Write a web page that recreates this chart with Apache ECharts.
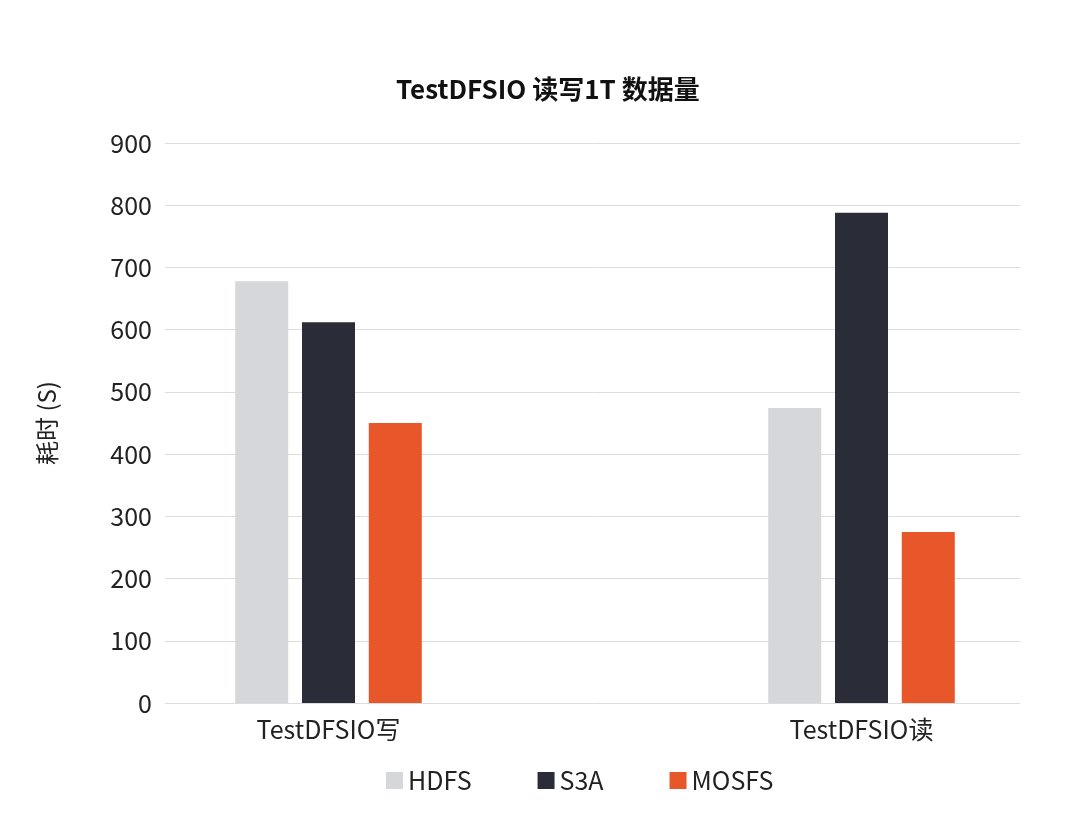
<!DOCTYPE html>
<html><head><meta charset="utf-8">
<script src="https://cdn.jsdelivr.net/npm/echarts@6/dist/echarts.min.js"></script>
<style>html,body{margin:0;padding:0;background:#fff}#c{width:1080px;height:836px}</style>
</head><body><div id="c"></div>
<script>
const categories = ['TestDFSIO写', 'TestDFSIO读'];
const seriesNames = ['HDFS', 'S3A', 'MOSFS'];
const hdfs = [678, 474];
const s3a = [612, 788];
const mosfs = [450, 275];
const yTicks = [0, 900, 100];
const colors = ['#d5d7db', '#2a2d37', '#e8572a'];

const FONT = '"Noto Sans CJK SC", "Noto Sans", sans-serif';
const chart = echarts.init(document.getElementById('c'));
const mk = (name, data, i) => ({
  name, type: 'bar', data, xAxisIndex: 0, yAxisIndex: 0,
  barWidth: 53, barGap: '26%', itemStyle: { color: colors[i] }
});
chart.setOption({
  animation: false,
  textStyle: { fontFamily: FONT },
  title: {
    text: 'TestDFSIO 读写1T 数据量', left: 391, top: 71,
    textStyle: { fontFamily: FONT, fontSize: 26, fontWeight: 'bold', color: '#111' }
  },
  legend: {
    bottom: 38, left: 381, itemWidth: 17, itemHeight: 17, itemGap: 66,
    icon: 'rect',
    textStyle: { fontFamily: FONT, fontSize: 25, color: '#222' },
    data: seriesNames
  },
  grid: [
    { left: 62, width: 1066, top: 143, bottom: 133, outerBoundsMode: 'none', containLabel: false },
    { left: 165, right: 60, top: 143, bottom: 133, outerBoundsMode: 'none', containLabel: false }
  ],
  xAxis: [
    { type: 'category', gridIndex: 0, data: categories,
      axisLine: { show: false }, axisTick: { show: false },
      axisLabel: { fontFamily: FONT, fontSize: 25, color: '#222', margin: 14 } },
    { type: 'category', gridIndex: 1, data: categories, show: false }
  ],
  yAxis: [
    { type: 'value', gridIndex: 0, min: yTicks[0], max: yTicks[1], interval: yTicks[2], show: false },
    { type: 'value', gridIndex: 1, min: yTicks[0], max: yTicks[1], interval: yTicks[2],
      name: '耗时 (S)', nameLocation: 'middle', nameGap: 106, nameRotate: 90,
      nameTextStyle: { fontFamily: FONT, fontSize: 24, color: '#222' },
      axisLine: { show: false }, axisTick: { show: false },
      axisLabel: { fontFamily: FONT, fontSize: 25, color: '#222', margin: 13 },
      splitLine: { lineStyle: { color: '#dcdcdc', width: 1 } } }
  ],
  series: [mk('HDFS', hdfs, 0), mk('S3A', s3a, 1), mk('MOSFS', mosfs, 2)]
});
</script></body></html>
